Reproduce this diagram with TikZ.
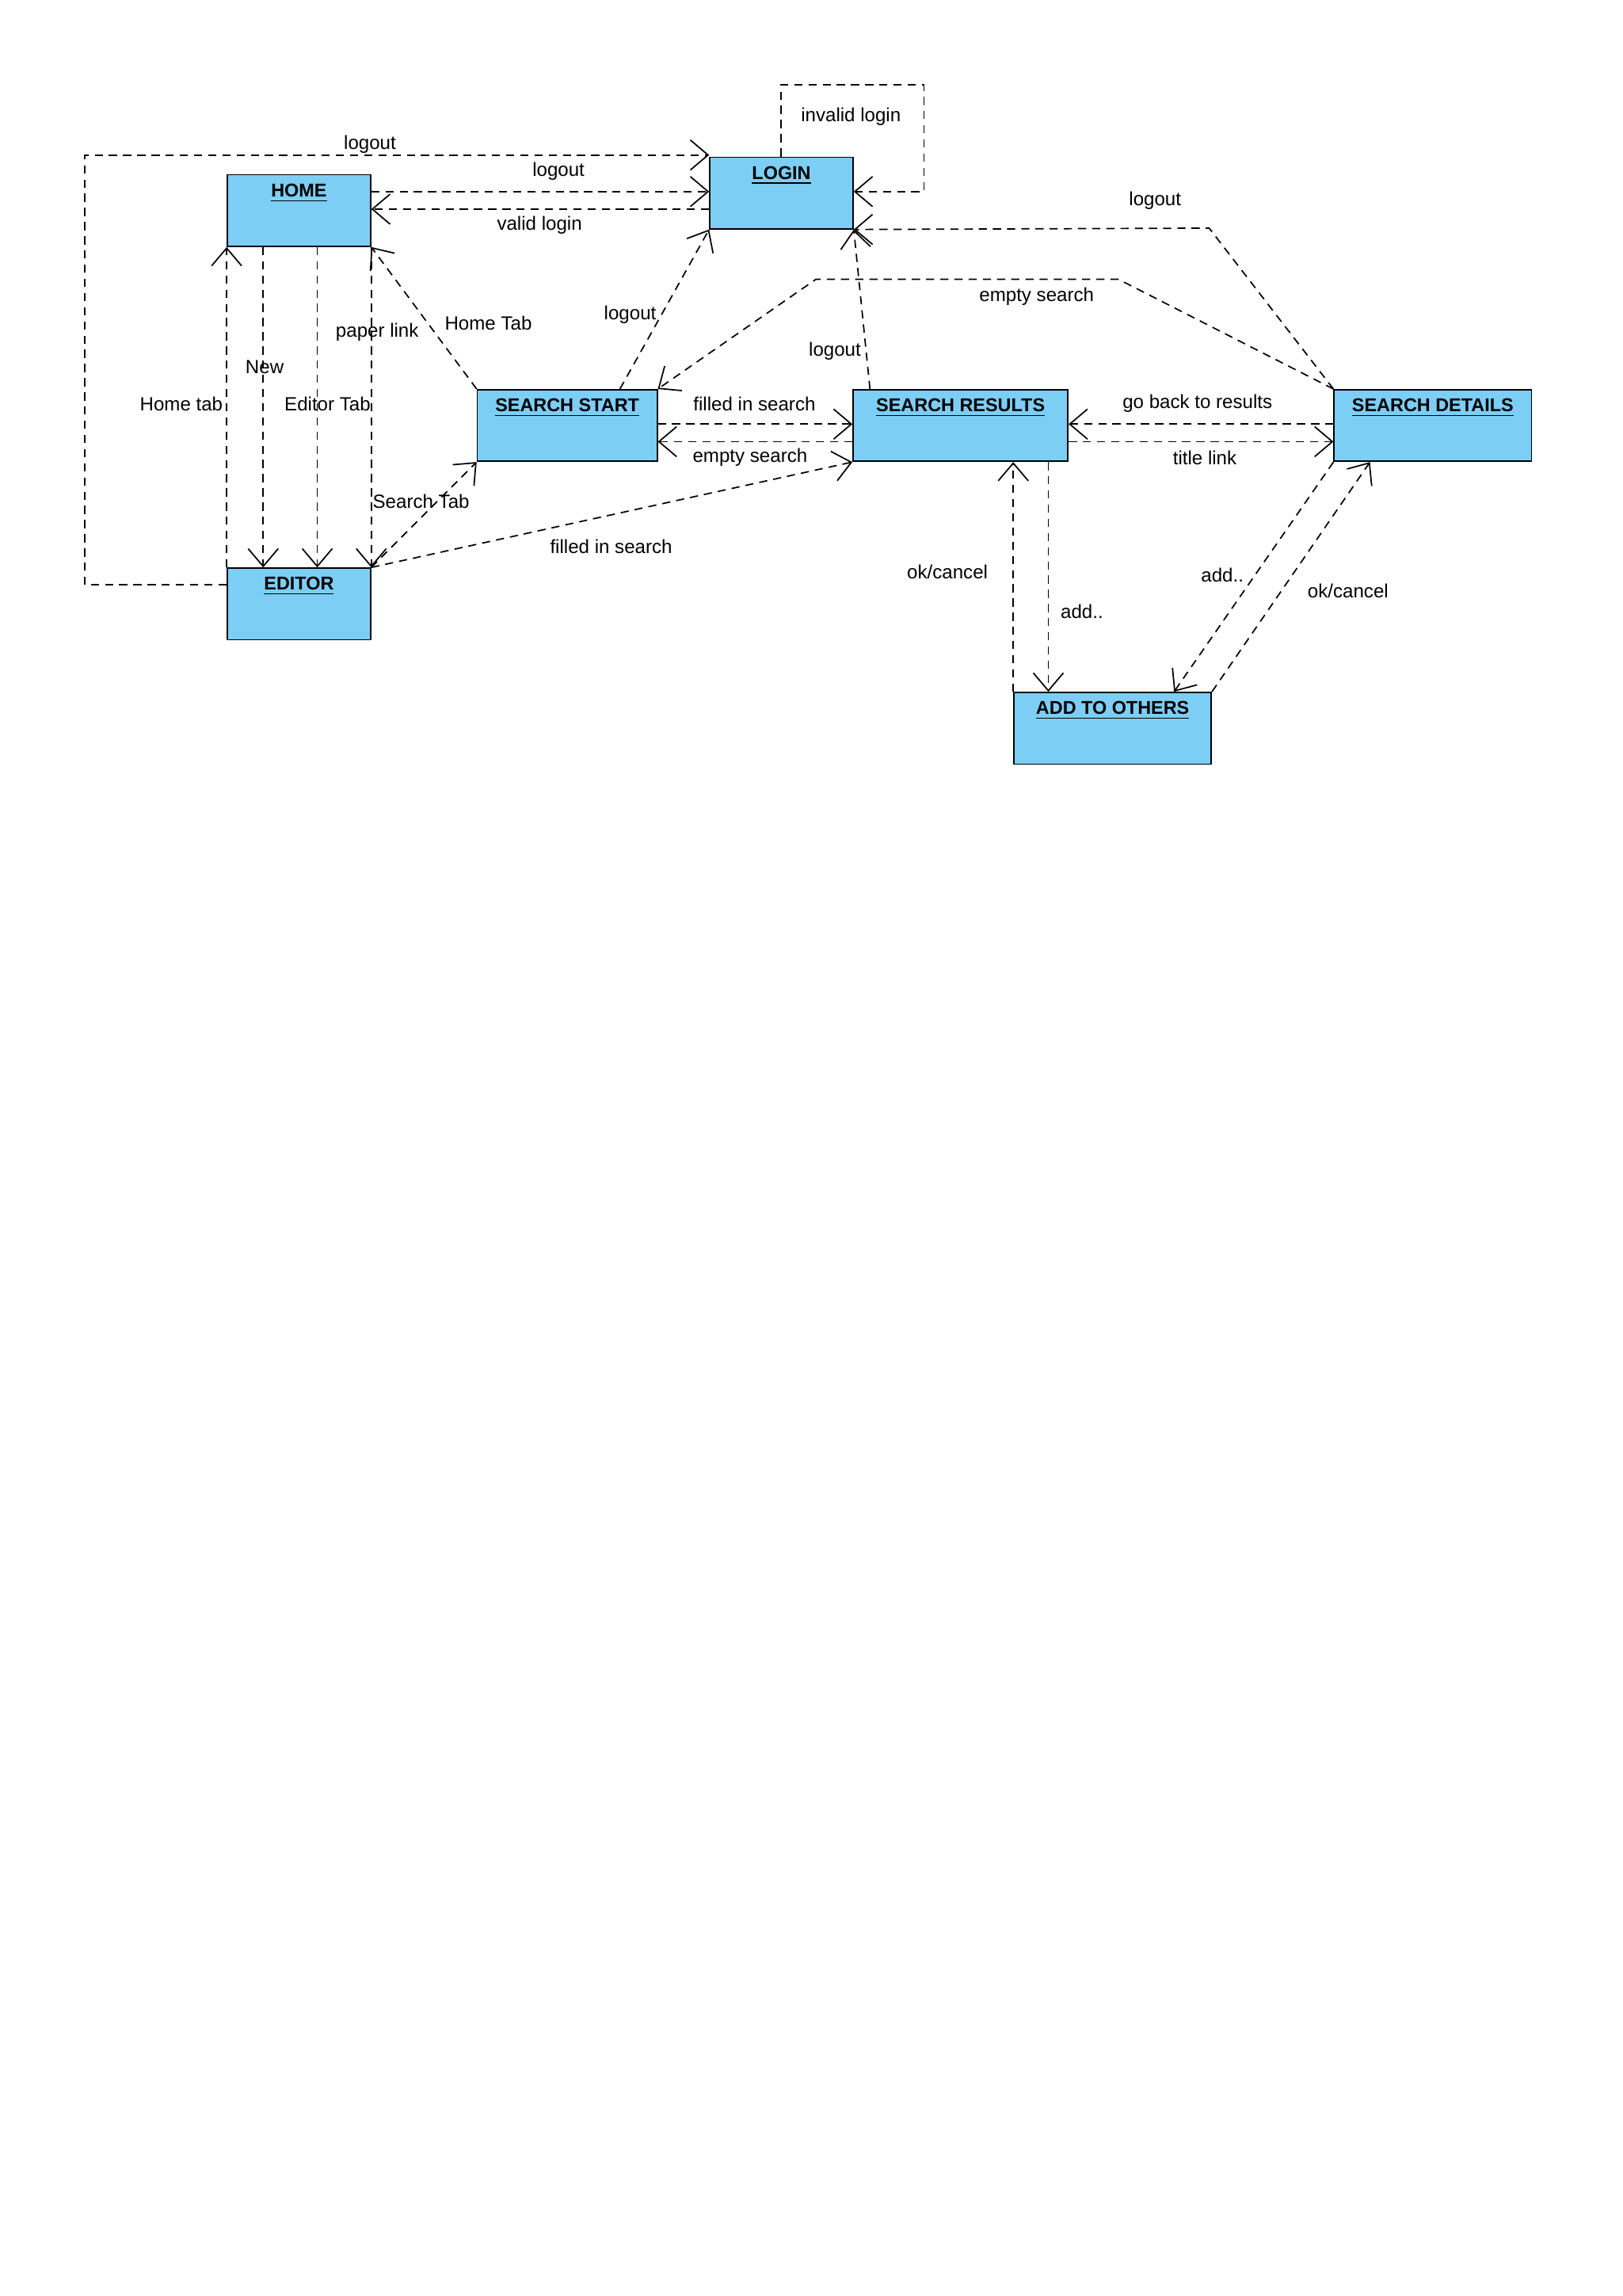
\documentclass[tikz,border=0pt]{standalone}
\usepackage{fontspec}
\setmainfont{Liberation Sans}
\usetikzlibrary{arrows.meta,calc}
\definecolor{boxc}{RGB}{125,206,245}
\begin{document}
\begin{tikzpicture}[x=0.536pt,y=-0.536pt,
  box/.style={draw,fill=boxc,line width=0.5pt,anchor=north west,minimum height=49*0.536pt,inner sep=0},
  ttl/.style={font=\fontsize{6.8}{8}\selectfont\bfseries},
  lab/.style={font=\fontsize{7}{8}\selectfont},
  c/.style={draw,dashed,dash pattern=on 3pt off 2.2pt,line width=0.5pt,-{Straight Barb[length=6.5pt,width=11pt]}}]
\fill[white] (0,0) rectangle (1110,1570);
\useasboundingbox (0,0) rectangle (1110,1570);
\newcommand\bx[5]{\node[box,minimum width=#3*0.536pt,label={[ttl,anchor=north,yshift=0pt]north:\underline{#5}}] (#1) at (#2) {};}
\bx{home}{155,119}{98}{}{HOME}
\bx{login}{485,107}{98}{}{LOGIN}
\bx{editor}{155,388}{98}{}{EDITOR}
\bx{ss}{326,266}{123}{}{SEARCH START}
\bx{sr}{583,266}{147}{}{SEARCH RESULTS}
\bx{sd}{912,266}{135}{}{SEARCH DETAILS}
\bx{ato}{693,473}{135}{}{ADD TO OTHERS}
% connectors
\draw[c] ($(editor.north west)+(0,12)$) -- (58,400) -- (58,106) -- ($(login.north west)+(0,-1)$);
\node[lab] (l1) at (253,99) {logout};
\draw[c] ($(home.north east)+(0,12)$) -- ($(login.north west)+(0,24)$);
\node[lab] (l2) at (382,117) {logout};
\draw[c] ($(login.north west)+(0,36)$) -- ($(home.north east)+(0,24)$);
\node[lab] (l3) at (369,154) {valid login};
\draw[c] ($(login.north west)+(49,0)$) -- (534,58) -- (632,58) -- (632,131) -- ($(login.north east)+(0,24)$);
\node[lab] (l4) at (582,80) {invalid login};
\draw[c] (editor.north west) -- (home.south west);
\node[lab] (l5) at (124,276) {Home tab};
\draw[c] ($(home.south west)+(25,0)$) -- ($(editor.north west)+(25,0)$);
\node[lab] (l6) at (181,251) {New};
\draw[c] ($(home.south west)+(62,0)$) -- ($(editor.north west)+(62,0)$);
\node[lab] (l7) at (224,276) {Editor Tab};
\draw[c] (home.south east) -- (editor.north east);
\node[lab] (l8) at (258,227) {paper link};
\draw[c] (ss.north west) -- (home.south east);
\node[lab] (l9) at (334,221) {Home Tab};
\draw[c] (editor.north east) -- (ss.south west);
\node[lab] (l10) at (288,343) {Search Tab};
\draw[c] (editor.north east) -- (sr.south west);
\node[lab] (l11) at (418,374) {filled in search};
\draw[c] ($(ss.north west)+(98,0)$) -- (login.south west);
\node[lab] (l12) at (431,215) {logout};
\draw[c] ($(ss.north east)+(0,24)$) -- ($(sr.north west)+(0,24)$);
\node[lab] (l13) at (516,276) {filled in search};
\draw[c] ($(sr.north west)+(0,36)$) -- ($(ss.north east)+(0,36)$);
\node[lab] (l14) at (513,313) {empty search};
\draw[c] ($(sr.north west)+(12,0)$) -- (login.south east);
\node[lab] (l15) at (571,240) {logout};
\draw[c] (sd.north west) -- (765,191) -- (558,191) -- (ss.north east);
\node[lab] (l16) at (709,203) {empty search};
\draw[c] (sd.north west) -- (827,156) -- (login.south east);
\node[lab] (l17) at (790,137) {logout};
\draw[c] ($(sd.north west)+(0,24)$) -- ($(sr.north east)+(0,24)$);
\node[lab] (l18) at (819,276) {go back to results};
\draw[c] ($(sr.north east)+(0,36)$) -- ($(sd.north west)+(0,36)$);
\node[lab] (l19) at (824,313) {title link};
\draw[c] (ato.north west) -- ($(sr.south west)+(110,0)$);
\node[lab] (l20) at (648,391) {ok/cancel};
\draw[c] ($(sr.south west)+(134,0)$) -- ($(ato.north west)+(24,0)$);
\node[lab] (l21) at (740,418) {add..};
\draw[c] (sd.south west) -- ($(ato.north west)+(110,0)$);
\node[lab] (l22) at (836,393) {add..};
\draw[c] (ato.north east) -- ($(sd.south west)+(25,0)$);
\node[lab] (l23) at (922,404) {ok/cancel};
\end{tikzpicture}
\end{document}
